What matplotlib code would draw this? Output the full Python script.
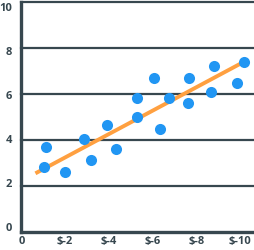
import matplotlib
matplotlib.use("Agg")
import matplotlib.pyplot as plt

x_vals = [10.18, 8.82, 7.68, 6.06, 9.88, 8.68, 5.29, 6.77, 7.60, 5.29,
          3.90, 6.35, 2.86, 1.14, 4.33, 3.20, 1.03, 1.98]
y_vals = [7.40, 7.22, 6.70, 6.70, 6.49, 6.10, 5.84, 5.81, 5.59, 5.00,
          4.67, 4.47, 4.04, 3.68, 3.62, 3.14, 2.84, 2.62]
line_x = [0.64, 10.18]
line_y = [2.55, 7.40]
x_ticks = [0, 2, 4, 6, 8, 10]
x_labels = ["0", "$-2", "$-4", "$-6", "$-8", "$-10"]
y_ticks = [0, 2, 4, 6, 8, 10]
y_labels = ["0", "2", "4", "6", "8", "10"]

dark = "#37474f"
plt.rcParams["font.family"] = ["Open Sans", "DejaVu Sans"]
fig = plt.figure(figsize=(2.54, 2.5), dpi=100)
ax = fig.add_axes([21/254, 18/250, 1 - 21/254, 230/250])
ax.set_xlim(-0.02, 10.64)
ax.set_ylim(0, 10)

for yt in y_ticks[1:]:
    ax.axhline(yt, color=dark, lw=1.6, zorder=1, clip_on=False)

ax.plot(line_x, line_y, color="#ffa040", lw=2.8, zorder=2, solid_capstyle="butt")
ax.scatter(x_vals, y_vals, s=64, color="#2196f3", zorder=3, linewidths=0)

for side in ["top", "right"]:
    ax.spines[side].set_visible(False)
ax.spines["left"].set_color(dark)
ax.spines["left"].set_linewidth(2.4)
ax.spines["bottom"].set_color(dark)
ax.spines["bottom"].set_linewidth(2.4)

ax.set_xticks(x_ticks)
ax.set_xticklabels(x_labels)
ax.set_yticks(y_ticks)
ax.set_yticklabels([])
ax.tick_params(length=0, colors=dark, labelsize=8)
ax.tick_params(axis="x", pad=3)
for lab in ax.get_xticklabels():
    lab.set_fontweight("bold")
    lab.set_color(dark)

# y labels sit on a slightly compressed scale relative to grid lines
ax2 = ax.twinx()
ax2.set_ylim(-0.2273, 10.227)
ax2.yaxis.set_ticks_position("left")
ax2.yaxis.set_label_position("left")
ax2.set_yticks(y_ticks)
ax2.set_yticklabels(y_labels)
ax2.tick_params(length=0, colors=dark, labelsize=8, pad=6.5)
for lab in ax2.get_yticklabels():
    lab.set_fontweight("bold")
    lab.set_color(dark)
for s in ax2.spines.values():
    s.set_visible(False)

fig.savefig("out.png", dpi=100)
